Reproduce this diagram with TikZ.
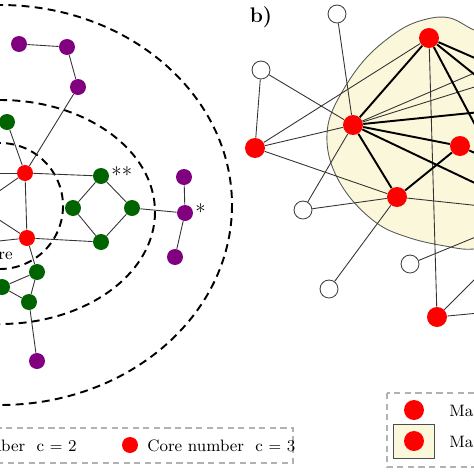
\documentclass[tikz,border=0pt]{standalone}
\usepackage{tikz}
\usetikzlibrary{calc}
\definecolor{kpurple}{RGB}{128, 0, 128}
\definecolor{kgreen}{RGB}{0, 100, 0}
\definecolor{kred}{RGB}{255, 0, 0}
\definecolor{coreyellow}{RGB}{251, 247, 218}
\begin{document}
\begin{tikzpicture}[x=0.02cm, y=-0.02cm,
  pdot/.style={circle, fill=kpurple, inner sep=0pt, minimum size=0.32cm},
  gdot/.style={circle, fill=kgreen, inner sep=0pt, minimum size=0.32cm},
  rdot/.style={circle, fill=kred, inner sep=0pt, minimum size=0.32cm},
  bigred/.style={circle, fill=kred, inner sep=0pt, minimum size=0.40cm},
  wdot/.style={circle, draw=black!75, fill=white, line width=0.5pt, inner sep=0pt, minimum size=0.36cm},
  link/.style={black!80, line width=0.5pt},
  heavy/.style={black, line width=1.1pt},
  shell/.style={black, line width=1.1pt, dash pattern=on 4.5pt off 3pt},
  legbox/.style={black!30, line width=0.6pt, dash pattern=on 3.5pt off 2.5pt},
  legtext/.style={inner sep=0pt, font=\fontsize{9.4}{11}\selectfont},
  stars/.style={font=\large, inner sep=1pt}
]
  \useasboundingbox (0,0) rectangle (474,474);
  \clip (0,0) rectangle (474,474);

  % a) shells
  \draw[shell] (0,206) ellipse [x radius=63, y radius=63];
  \draw[shell] (0,212) ellipse [x radius=155, y radius=112];
  \draw[shell] (0,205) ellipse [x radius=232, y radius=200];
  \node[legtext, anchor=east] (corelbl) at (13,254) {Core};

  \node[pdot] (pu1) at (19,44) {};
  \node[pdot] (pu2) at (67,47) {};
  \node[pdot] (pu3) at (78,87) {};
  \node[gdot] (gr1) at (7,122) {};
  \node[rdot] (rdA) at (25,173) {};
  \node[gdot, label={[stars, yshift=1pt]right:**}] (gr2) at (101,176) {};
  \node[gdot] (gr3) at (73,208) {};
  \node[gdot] (gr4) at (132,208) {};
  \node[gdot] (gr5) at (101,242) {};
  \node[pdot] (pu4) at (184,177) {};
  \node[pdot, label={[stars, yshift=1pt]right:*}] (pu5) at (185,213) {};
  \node[pdot] (pu6) at (175,257) {};
  \node[rdot] (rdB) at (27,238) {};
  \node[gdot] (gr6) at (37,272) {};
  \node[gdot] (gr7) at (2,287) {};
  \node[gdot] (gr8) at (29,302) {};
  \node[pdot] (pu7) at (37,361) {};
  \coordinate (offA) at (-20,173);
  \coordinate (offC) at (-22,206);
  \coordinate (offB) at (-20,243);

  \draw[link] (pu1) -- (pu2);
  \draw[link] (pu2) -- (pu3);
  \draw[link] (pu3) -- (rdA);
  \draw[link] (gr1) -- (rdA);
  \draw[link] (rdA) -- (gr2);
  \draw[link] (rdA) -- (offA);
  \draw[link] (rdA) -- (offC);
  \draw[link] (rdA) -- (rdB);
  \draw[link] (gr2) -- (gr3);
  \draw[link] (gr2) -- (gr4);
  \draw[link] (gr3) -- (gr5);
  \draw[link] (gr4) -- (gr5);
  \draw[link] (gr4) -- (pu5);
  \draw[link] (pu4) -- (pu5);
  \draw[link] (pu5) -- (pu6);
  \draw[link] (rdB) -- (gr5);
  \draw[link] (rdB) -- (offC);
  \draw[link] (rdB) -- (offB);
  \draw[link] (rdB) -- (gr6);
  \draw[link] (gr6) -- (gr7);
  \draw[link] (gr7) -- (gr8);
  \draw[link] (gr6) -- (gr8);
  \draw[link] (gr8) -- (pu7);

  % b) main core region
  \filldraw[fill=coreyellow, draw=black!65, line width=0.5pt]
    plot[smooth cycle, tension=0.6] coordinates {(474,30) (450,18) (427,19) (400,30) (367,57) (342,92)
      (328,125) (330,160) (348,195) (378,224) (410,238) (445,246) (474,249) (520,240) (530,100) (500,40)};
  \node[font=\large\bfseries] (blbl) at (261,17) {b)};

  \node[wdot] (wt1) at (337,14) {};
  \node[wdot] (wt2) at (261,70) {};
  \node[wdot] (wt3) at (303,210) {};
  \node[wdot] (wt4) at (329,289) {};
  \node[wdot] (wt5) at (410,264) {};
  \node[bigred] (rd1) at (255,148) {};
  \node[bigred] (rd2) at (353,125) {};
  \node[bigred] (rd3) at (429,38) {};
  \node[bigred] (rd4) at (460,146) {};
  \node[bigred] (rd5) at (397,197) {};
  \node[bigred] (rd6) at (437,317) {};
  \coordinate (e1) at (500,69);
  \coordinate (e2) at (500,95);
  \coordinate (e3) at (490,153);
  \coordinate (e4) at (500,62);
  \coordinate (e5) at (500,79);
  \coordinate (e6) at (500,110);
  \coordinate (e7) at (500,195);
  \coordinate (e8) at (500,165);
  \coordinate (e9) at (500,208);
  \coordinate (e10) at (500,227);
  \coordinate (e11) at (500,254);
  \coordinate (e12) at (500,311);

  \draw[link] (wt1) -- (rd2);
  \draw[link] (wt2) -- (rd1);
  \draw[link] (wt2) -- (rd2);
  \draw[link] (rd1) -- (rd3);
  \draw[link] (rd1) -- (rd2);
  \draw[link] (rd1) -- (rd5);
  \draw[link] (wt3) -- (rd2);
  \draw[link] (wt3) -- (rd5);
  \draw[link] (rd5) -- (wt4);
  \draw[link] (rd3) -- (rd6);
  \draw[link] (rd2) -- (e4);
  \draw[link] (rd2) -- (e5);
  \draw[link] (rd5) -- (e9);
  \draw[link] (wt5) -- (e10);
  \draw[link] (rd6) -- (e11);
  \draw[link] (rd6) -- (e12);
  \draw[heavy] (rd2) -- (rd3);
  \draw[heavy] (rd2) -- (rd4);
  \draw[heavy] (rd2) -- (rd5);
  \draw[heavy] (rd5) -- (rd4);
  \draw[heavy] (rd3) -- (e1);
  \draw[heavy] (rd3) -- (e2);
  \draw[heavy] (rd3) -- (e3);
  \draw[heavy] (rd2) -- (e6);
  \draw[heavy] (rd2) -- (e7);
  \draw[heavy] (rd4) -- (e8);

  % Legend
  \draw[legbox] (-10,428) rectangle (293,463);
  \node[legtext, anchor=east] (lgtxtA) at (77,446) {Core number\ \ c $=$ 2};
  \node[rdot] (lgdotB) at (130,445) {};
  \node[legtext, anchor=west] (lgtxtB) at (147,446) {Core number\ \ c $=$ 3};

  \draw[legbox] (387,393) rectangle (520,467);
  \node[bigred] (lgdotC) at (414,410) {};
  \node[legtext, anchor=west] (lgtxtC) at (449,411) {Main core node};
  \node[draw=black!70, fill=coreyellow, line width=0.5pt, minimum width=0.82cm, minimum height=0.68cm] (lgbox) at (414,441) {};
  \node[bigred] (lgdotD) at (414,441) {};
  \node[legtext, anchor=west] (lgtxtD) at (449,442) {Main core};
\end{tikzpicture}
\end{document}
